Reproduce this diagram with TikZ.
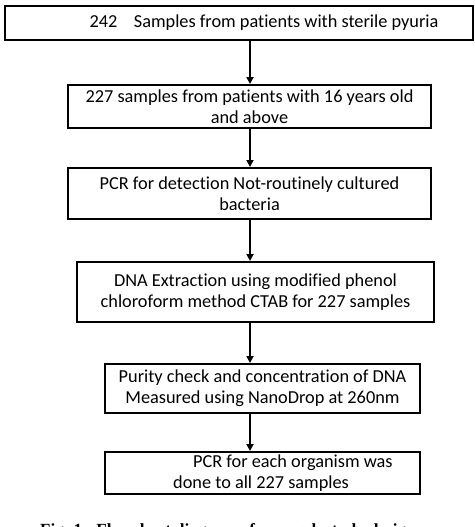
\documentclass[tikz,border=0pt]{standalone}
\usepackage{fontspec}
\setmainfont{Carlito}[Ligatures=CommonOff]
\newfontfamily\capfont{Liberation Serif}
\usetikzlibrary{arrows.meta}
\begin{document}
\begin{tikzpicture}[x=1pt,y=-1pt,
  box/.style={draw=black, line width=2pt, inner sep=0pt, align=center,
    font=\fontsize{18.3}{21}\selectfont},
  txt/.style={inner sep=0pt, align=left, font=\fontsize{18.3}{21}\selectfont},
  flow/.style={-{Triangle[length=7pt,width=7pt]}, line width=2pt},
  captxt/.style={inner sep=0pt, anchor=base west, font=\capfont\bfseries\fontsize{17}{20}\selectfont}]
\useasboundingbox (0,0) rectangle (474,527);
\fill[white] (0,0) rectangle (474,527);
\clip (0,0) rectangle (474,527);
\coordinate (ax) at (250,0);
\node[box, minimum width=468pt, minimum height=34pt] (b1) at (239,23) {};
\node[txt] (t1) at (264,23) {242\hspace{0.9em}Samples from patients with sterile pyuria};
\node[box, minimum width=363pt, minimum height=43pt] (b2) at (249.5,106.5)
  {227 samples from patients with 16 years old\\and above};
\node[box, minimum width=363pt, minimum height=51pt] (b3) at (249.5,193.5)
  {PCR for detection Not-routinely cultured\\bacteria};
\node[box, minimum width=357pt, minimum height=60pt] (b4) at (255.5,292)
  {DNA Extraction using modified phenol\\chloroform method CTAB for 227 samples};
\node[box, minimum width=315pt, minimum height=49pt] (b5) at (262.5,388.5)
  {Purity check and concentration of DNA\\Measured using NanoDrop at 260nm};
\node[box, minimum width=315pt, minimum height=42pt] (b6) at (262.5,473) {};
\node[txt, anchor=west] (t6) at (173,473) {\hspace*{20pt}PCR for each organism was\\done to all 227 samples};
\draw[flow] (b1.south -| ax) -- (b2.north -| ax);
\draw[flow] (b2.south -| ax) -- (b3.north -| ax);
\draw[flow] (b3.south -| ax) -- (b4.north -| ax);
\draw[flow] (b4.south -| ax) -- (b5.north -| ax);
\draw[flow] (b5.south -| ax) -- (b6.north -| ax);
\node[captxt] (c) at (40,535) {Fig. 1:\ \ Flowchart diagram of research study design};
\end{tikzpicture}
\end{document}
